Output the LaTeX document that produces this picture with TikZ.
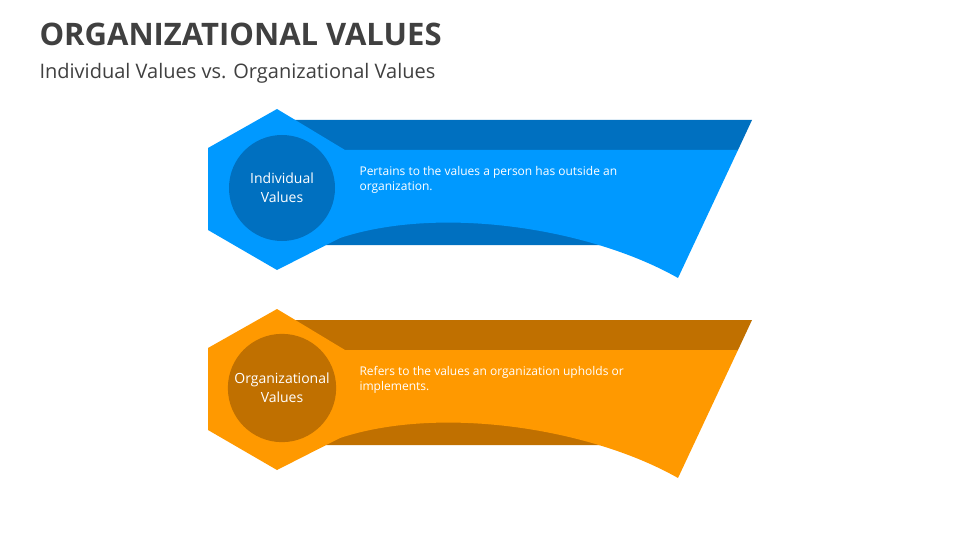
\documentclass[tikz,border=0pt]{standalone}
\usepackage{fontspec}
\setmainfont{Open Sans}
\begin{document}
\begin{tikzpicture}[x=1pt,y=-1pt,
  body/.style={font=\fontsize{12}{15}\selectfont, text=white, anchor=north west, align=left},
  circ/.style={font=\fontsize{14}{19}\selectfont, text=white, align=center}]
\definecolor{lb}{HTML}{0099FF}\definecolor{db}{HTML}{0070C0}
\definecolor{lo}{HTML}{FF9900}\definecolor{do}{HTML}{C07000}
\useasboundingbox[fill=white] (0,0) rectangle (960,540);
\node[anchor=west, font=\bfseries\fontsize{31}{36}\selectfont, text=black!75] (t) at (36,34) {ORGANIZATIONAL VALUES};
\node[anchor=west, font=\fontsize{20}{24}\selectfont, text=black!75] (st) at (36,73) {Individual Values vs. Organizational Values};
\foreach \dy/\l/\d/\nm/\txt/\ct in {0/lb/db/a/{Pertains to the values a person has outside an\\organization.}/{Individual\\Values},
  200/lo/do/b/{Refers to the values an organization upholds or\\implements.}/{Organizational\\Values}}{
 \begin{scope}[yshift=-\dy]
  \fill[\d] (290,120) -- (752,120) -- (738,150) -- (600,245) -- (320,245) -- cycle;
  \fill[\l, drop shadow/.try] (277,109) -- (345,150) -- (738,150) -- (678,278)
     .. controls (590,228) and (440,205) .. (340,238) -- (277,270) -- (208,230) -- (208,148) -- cycle;
  \node[circle, fill=\d, minimum size=106, circ] (c\nm) at (282,188) {\ct};
  \node[body] (d\nm) at (356,163) {\txt};
 \end{scope}}
\end{tikzpicture}
\end{document}
